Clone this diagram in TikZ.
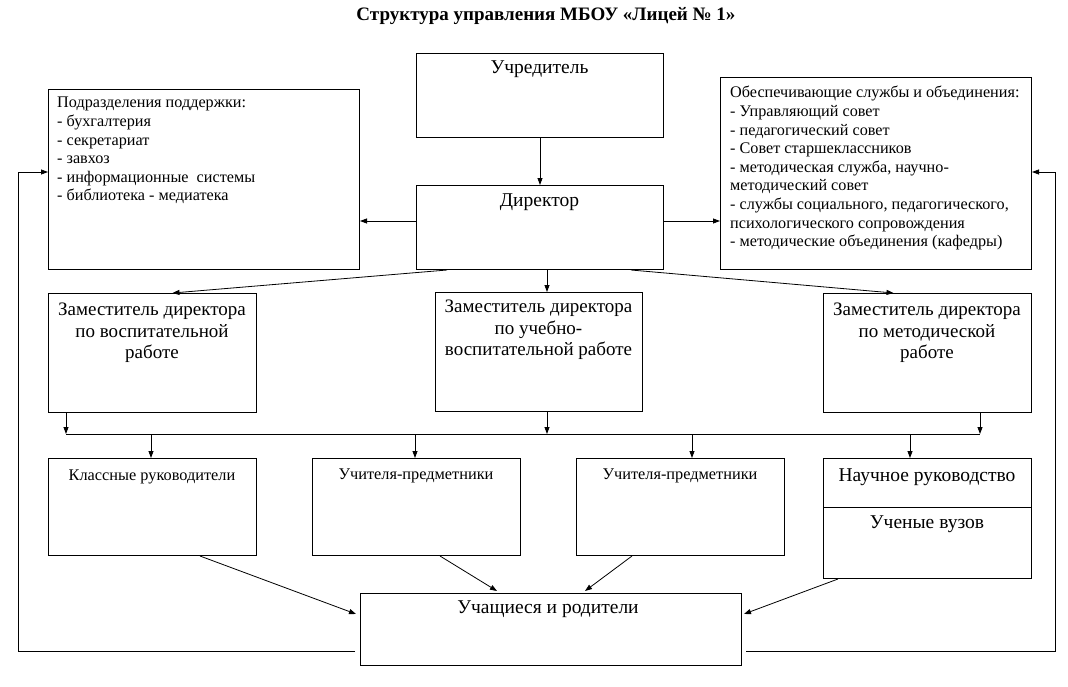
\documentclass[tikz,border=0pt]{standalone}
\usepackage{fontspec}
\setmainfont{Liberation Serif}
\usetikzlibrary{arrows.meta,calc}
\begin{document}
\begin{tikzpicture}[x=1pt,y=-1pt,
  box/.style={draw, line width=1pt, inner sep=0pt, anchor=north west},
  arr/.style={-{Triangle[length=7pt,width=5pt]}, line width=0.8pt},
  ln/.style={line width=0.8pt},
  txt/.style={inner sep=0pt, anchor=north, align=center},
  big/.style={font=\fontsize{19.5}{21.5}\selectfont},
  dep/.style={font=\fontsize{19}{21.5}\selectfont},
  small/.style={font=\fontsize{16.3}{18}\selectfont},
  list/.style={inner sep=0pt, anchor=north west, align=left, font=\fontsize{16.2}{18.6}\selectfont}]
\useasboundingbox (0,0) rectangle (1068,686);
\fill[white] (0,0) rectangle (1068,686);
% title
\node[inner sep=0pt, anchor=north, font=\fontsize{19}{21}\selectfont\bfseries] (title) at (546,7) {Структура управления МБОУ «Лицей № 1»};
% boxes
\node[box, minimum width=247pt, minimum height=84pt] (uch) at (416,53) {};
\node[box, minimum width=247pt, minimum height=84pt] (dir) at (416,185) {};
\node[box, minimum width=311pt, minimum height=180pt] (sup) at (48,89) {};
\node[box, minimum width=311pt, minimum height=192pt] (obs) at (720,77) {};
\node[box, minimum width=208pt, minimum height=119pt] (z1) at (48,293) {};
\node[box, minimum width=207pt, minimum height=119pt] (z2) at (435,292) {};
\node[box, minimum width=208pt, minimum height=119pt] (z3) at (823,293) {};
\node[box, minimum width=208pt, minimum height=97pt] (kl) at (48,458) {};
\node[box, minimum width=208pt, minimum height=97pt] (u1) at (312,458) {};
\node[box, minimum width=208pt, minimum height=97pt] (u2) at (576,458) {};
\node[box, minimum width=208pt, minimum height=120pt] (nr) at (823,458) {};
\draw[line width=1pt] (nr.west |- 0,507) -- (nr.east |- 0,507);
\node[box, minimum width=381pt, minimum height=72pt] (ro) at (360,593) {};
% texts
\node[txt, big] (tuch) at (539.5,61) {Учредитель};
\node[txt, big] (tdir) at (539.5,194) {Директор};
\node[list] (tsup) at (57,97) {Подразделения поддержки:\\- бухгалтерия\\- секретариат\\- завхоз\\- информационные \ системы\\- библиотека - медиатека};
\node[list] (tobs) at (730,86) {Обеспечивающие службы и объединения:\\- Управляющий совет\\- педагогический совет\\- Совет старшеклассников\\- методическая служба, научно-\\методический совет\\- службы социального, педагогического,\\психологического сопровождения\\- методические объединения (кафедры)};
\node[txt, dep] (tz1) at (152,303) {Заместитель директора\\по воспитательной\\работе};
\node[txt, dep] (tz2) at (538.5,300) {Заместитель директора\\по учебно-\\воспитательной работе};
\node[txt, dep] (tz3) at (927,303) {Заместитель директора\\по методической\\работе};
\node[txt, small] (tkl) at (152,470) {Классные руководители};
\node[txt, small] (tu1) at (416,469) {Учителя-предметники};
\node[txt, small] (tu2) at (680,469) {Учителя-предметники};
\node[txt, big] (tnr) at (927,469) {Научное руководство};
\node[txt, big] (tuv) at (927,516) {Ученые вузов};
\node[txt, big] (tro) at (548,601) {Учащиеся и родители};
% connectors
\draw[arr] (uch.south) -- (dir.north);
\draw[arr] (dir.west |- 0,221) -- (sup.east |- 0,221);
\draw[arr] (dir.east |- 0,221) -- (obs.west |- 0,221);
\draw[arr] ($(dir.south west)+(31,0)$) -- ($(z1.north)+(20,0)$);
\draw[arr] (dir.south -| 547,0) -- (z2.north -| 547,0);
\draw[arr] ($(dir.south east)+(-33,0)$) -- ($(z3.north)+(-34,0)$);
% bus
\coordinate (busL) at (66,434);
\coordinate (busR) at (980,434);
\draw[ln] (busL) -- (busR);
\draw[arr] (z1.south -| busL) -- (busL);
\draw[arr] (z2.south -| 547,0) -- (547,434);
\draw[arr] (z3.south -| busR) -- (busR);
\draw[arr] (151,434) -- (kl.north -| 151,0);
\draw[arr] (415,434) -- (u1.north -| 415,0);
\draw[arr] (692,434) -- (u2.north -| 692,0);
\draw[arr] (910,434) -- (nr.north -| 910,0);
% to pupils
\draw[arr] (kl.south -| 200,0) -- ($(ro.north west)+(-4,21)$);
\draw[arr] (u1.south -| 440,0) -- ($(ro.north west)+(137,-2)$);
\draw[arr] (u2.south -| 632,0) -- ($(ro.north west)+(225,-2)$);
\draw[arr] (nr.south -| 838,0) -- ($(ro.north east)+(2,21)$);
% loops
\draw[arr] ($(ro.north west)+(-5,58)$) -- (18,651) -- (18,172) -- (sup.west |- 0,172);
\draw[arr] ($(ro.north east)+(4,58)$) -- (1055,651) -- (1055,172) -- (obs.east |- 0,172);
\end{tikzpicture}
\end{document}
